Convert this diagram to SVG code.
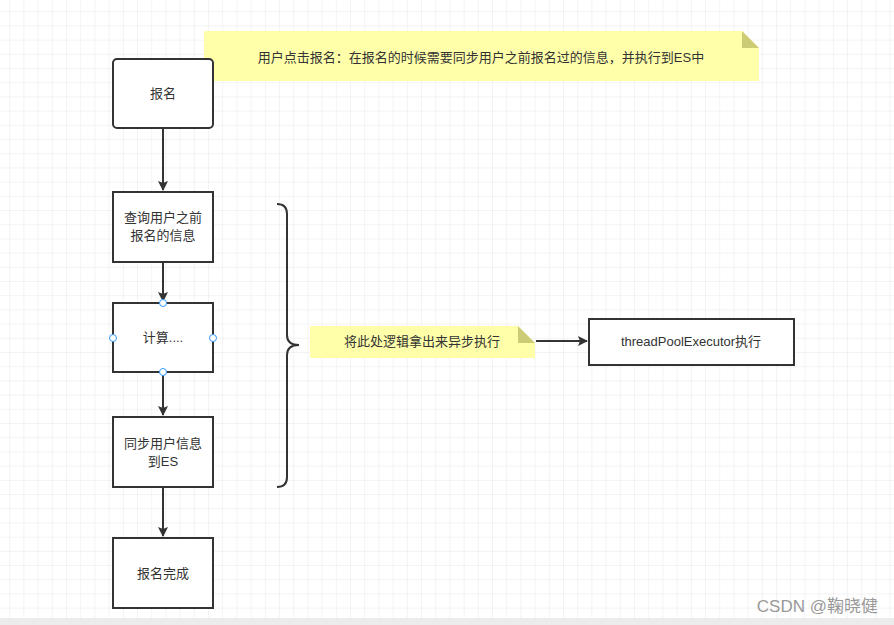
<svg xmlns="http://www.w3.org/2000/svg" width="894" height="625" viewBox="0 0 894 625">
<defs>
<pattern id="g" width="14.2" height="14.2" patternUnits="userSpaceOnUse" x="-4" y="-2"><path d="M14.2 0V14.2M0 14.2H14.2" fill="none" stroke="#e8e8e8" stroke-width="1"/></pattern>
<marker id="a" markerWidth="10" markerHeight="10" refX="9" refY="5" orient="auto" markerUnits="userSpaceOnUse"><path d="M0 0L10 5L0 10L2 5Z" fill="#333"/></marker>
<style>
.b{fill:#fff;stroke:#333;stroke-width:2}
.t{font-family:"Liberation Sans","Noto Sans CJK SC",sans-serif;font-size:13px;fill:#333;text-anchor:middle}
.c{stroke:#333;stroke-width:2;fill:none}
.n{fill:#ffffaa}.f{fill:#cccc77}
.h{fill:#fff;stroke:#3399ff;stroke-width:1}
</style>
</defs>
<rect width="894" height="625" fill="#fff"/>
<rect width="894" height="618" fill="url(#g)"/>
<rect y="618" width="894" height="7" fill="#ececec"/>
<g id="connectors">
<path class="c" d="M163 129V190" marker-end="url(#a)"/>
<path class="c" d="M163 262V301" marker-end="url(#a)"/>
<path class="c" d="M163 373V415" marker-end="url(#a)"/>
<path class="c" d="M163 488V536" marker-end="url(#a)"/>
<path class="c" d="M536 341H587" marker-end="url(#a)"/>
<path class="c" d="M277 204Q287 204 287 214V335Q287 345 299 345Q287 345 287 355V477Q287 487 277 487"/>
</g>
<g id="note1"><path class="n" d="M204 31H742L759 48V81H204Z"/><path class="f" d="M742 31L759 48H742Z"/><text class="t" x="481" y="62">用户点击报名：在报名的时候需要同步用户之前报名过的信息，并执行到ES中</text></g>
<g id="n1"><rect class="b" x="113" y="59" width="100" height="69" rx="4"/><text class="t" x="163" y="98">报名</text></g>
<g id="n2"><rect class="b" x="113" y="192" width="100" height="70"/><text class="t" x="163" y="222">查询用户之前</text><text class="t" x="163" y="240">报名的信息</text></g>
<g id="n3"><rect class="b" x="113" y="303" width="100" height="69"/><text class="t" x="163" y="342">计算....</text>
<circle class="h" cx="163" cy="303" r="3.5"/><circle class="h" cx="113" cy="338" r="3.5"/><circle class="h" cx="213" cy="338" r="3.5"/><circle class="h" cx="163" cy="372" r="3.5"/></g>
<g id="n4"><rect class="b" x="113" y="417" width="100" height="70"/><text class="t" x="163" y="448">同步用户信息</text><text class="t" x="163" y="466">到ES</text></g>
<g id="n5"><rect class="b" x="113" y="538" width="100" height="70"/><text class="t" x="163" y="578">报名完成</text></g>
<g id="note2"><path class="n" d="M310 326H518L535 343V358H310Z"/><path class="f" d="M518 326L535 343H518Z"/><text class="t" x="422" y="346">将此处逻辑拿出来异步执行</text></g>
<g id="n6"><rect class="b" x="589" y="319" width="205" height="46"/><text class="t" x="691" y="346">threadPoolExecutor执行</text></g>
<text x="878" y="612" style="font-family:'Liberation Sans','Noto Sans CJK SC',sans-serif;font-size:17px;fill:#999;text-anchor:end">CSDN @鞠晓健</text>
</svg>
